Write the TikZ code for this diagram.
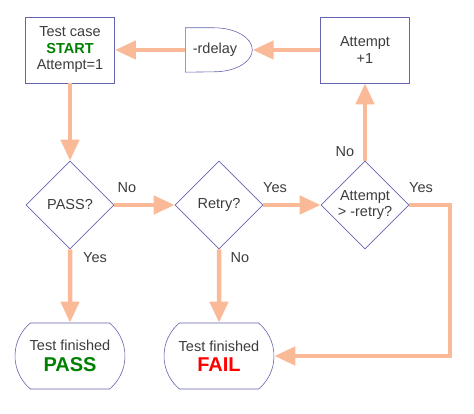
\documentclass[tikz,border=0pt]{standalone}
\usepackage{fontspec}
\setmainfont{Liberation Sans}
\usetikzlibrary{arrows.meta,shapes.geometric,shapes.misc}
\definecolor{flow}{RGB}{250,186,152}
\definecolor{edge}{RGB}{100,100,175}
\definecolor{txt}{RGB}{60,60,60}
\definecolor{okgreen}{RGB}{0,128,0}

\begin{document}
\begin{tikzpicture}[x=1pt,y=-1pt,
    font=\fontsize{14.5}{16.5}\selectfont, text=txt,
    box/.style={draw=edge,line width=0.8pt,minimum width=89pt,minimum height=66pt,inner sep=0pt,align=center},
    delay/.style={minimum width=67pt,minimum height=44pt,inner sep=0pt},
    test/.style={diamond,draw=edge,line width=0.6pt,minimum width=88pt,minimum height=88pt,inner sep=0pt,align=center},
    stop/.style={rounded rectangle,rounded rectangle arc length=100,draw=edge,line width=0.6pt,minimum width=110pt,minimum height=66pt,inner sep=0pt,align=center},
    flowline/.style={draw=flow,line width=4.5pt,-{Triangle[length=21pt,width=18pt]}}]
    \useasboundingbox (0,0) rectangle (474,414);

    % top row
    \node[box] (start) at (70,50) {Test case\\{\bfseries\color{okgreen}START}\\Attempt=1};
    \node[delay] (delay) at (219,50) {\hspace*{-8pt}-rdelay};
    \draw[draw=edge,line width=0.6pt] (delay.north west) -- ++(29,0)
        arc[start angle=90,end angle=-90,x radius=38pt,y radius=22pt] -- (delay.south west) -- cycle;
    \node[box] (attempt) at (365,50) {Attempt\\+1};

    % decisions
    \node[test] (pass) at (70,205) {PASS?};
    \node[test] (retry) at (219,205) {Retry?};
    \node[test] (check) at (365,205) {Attempt\\> -retry?};

    % end states
    \node[stop] (passend) at (70,356) {Test finished\\[4pt]{\fontsize{20}{22}\selectfont\bfseries\color{okgreen}PASS}};
    \node[stop] (failend) at (219,356) {Test finished\\[4pt]{\fontsize{20}{22}\selectfont\bfseries\color{red}FAIL}};

    % connectors
    \draw[flowline] (start) -- (pass);
    \draw[flowline] (pass) -- (retry);
    \draw[flowline] (retry) -- (check);
    \draw[flowline] (check) -- (attempt);
    \draw[flowline] (attempt) -- (delay);
    \draw[flowline] (delay) -- (start);
    \draw[flowline] (pass) -- (passend);
    \draw[flowline] (retry) -- (failend);
    \coordinate (turn) at (450,356);
    \draw[flowline] (check.east) -| (turn) -- (failend.east);

    % labels
    \node (no1) at (127,188) {No};
    \node (yes1) at (95,258) {Yes};
    \node (yes2) at (275,188) {Yes};
    \node (no2) at (240,258) {No};
    \node (yes3) at (421,188) {Yes};
    \node (no3) at (345,152) {No};
\end{tikzpicture}
\end{document}
